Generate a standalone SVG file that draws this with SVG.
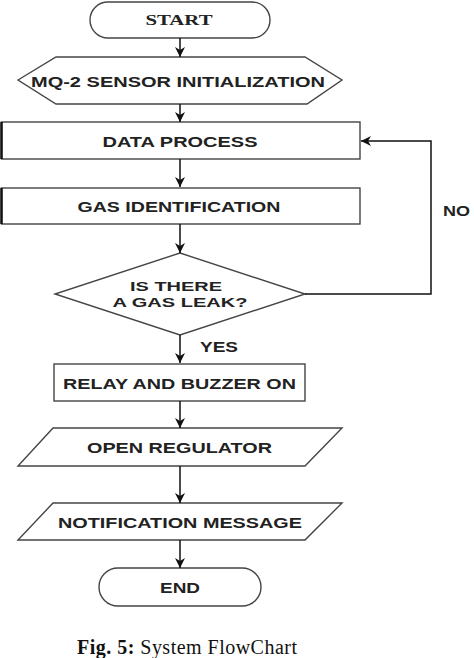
<svg xmlns="http://www.w3.org/2000/svg" width="474" height="658" viewBox="0 0 474 658">
<defs>
<marker id="ah" viewBox="0 0 10 10" refX="10" refY="5" markerWidth="10" markerHeight="10" markerUnits="userSpaceOnUse" orient="auto">
<path d="M0,0 L10,5 L0,10 L3,5 Z" fill="#111"/>
</marker>
</defs>
<style>
.sh{fill:#fff;stroke:#444;stroke-width:1.4}
.t{font-family:"Liberation Sans",Arial,sans-serif;font-weight:bold;font-size:15px;fill:#222;text-anchor:middle;dominant-baseline:central}
.d{font-size:13.5px}
.c{fill:none;stroke:#111;stroke-width:1.5}
</style>
<rect width="474" height="658" fill="#fff"/>
<g id="start">
<rect class="sh" x="90" y="2" width="180" height="36" rx="18" ry="18"/>
<text x="179" y="20" style="font-family:'Liberation Serif',serif;font-weight:bold;font-size:15px;fill:#222;text-anchor:middle;dominant-baseline:central" textLength="67" lengthAdjust="spacingAndGlyphs">START</text>
</g>
<g id="init">
<polygon class="sh" points="18,80 56,57 305,57 342,80 307,104 56,104"/>
<text class="t" x="178" y="81" textLength="294" lengthAdjust="spacingAndGlyphs">MQ-2 SENSOR INITIALIZATION</text>
</g>
<g id="data">
<rect class="sh" x="1.5" y="122" width="358.5" height="37"/>
<line x1="1.5" y1="122" x2="1.5" y2="159" stroke="#111" stroke-width="2.5"/>
<text class="t" x="180" y="141" textLength="155" lengthAdjust="spacingAndGlyphs">DATA PROCESS</text>
</g>
<g id="gas">
<rect class="sh" x="1.5" y="188" width="358.5" height="36"/>
<line x1="1.5" y1="188" x2="1.5" y2="224" stroke="#111" stroke-width="2.5"/>
<text class="t" x="179" y="206" textLength="203" lengthAdjust="spacingAndGlyphs">GAS IDENTIFICATION</text>
</g>
<g id="decision">
<polygon class="sh" points="180,253 305,294 180,335 55,294"/>
<text class="t d" x="176" y="286" textLength="92" lengthAdjust="spacingAndGlyphs">IS THERE</text>
<text class="t d" x="180" y="302.5" textLength="135" lengthAdjust="spacingAndGlyphs">A GAS LEAK?</text>
</g>
<g id="relay">
<rect class="sh" x="54" y="364" width="251" height="37"/>
<text class="t" x="179.5" y="383" textLength="233" lengthAdjust="spacingAndGlyphs">RELAY AND BUZZER ON</text>
</g>
<g id="regulator">
<polygon class="sh" points="53,428 342,428 305,466 18,466"/>
<text class="t" x="179.5" y="447" textLength="185" lengthAdjust="spacingAndGlyphs">OPEN REGULATOR</text>
</g>
<g id="notify">
<polygon class="sh" points="53,503 342,503 305,540 18,540"/>
<text class="t" x="180" y="522" textLength="244" lengthAdjust="spacingAndGlyphs">NOTIFICATION MESSAGE</text>
</g>
<g id="end">
<rect class="sh" x="99" y="568" width="162" height="38" rx="19" ry="19"/>
<text class="t" x="180" y="587" textLength="40" lengthAdjust="spacingAndGlyphs">END</text>
</g>
<g id="connectors">
<line class="c" x1="180" y1="38" x2="180" y2="57" marker-end="url(#ah)"/>
<line class="c" x1="180" y1="104" x2="180" y2="122" marker-end="url(#ah)"/>
<line class="c" x1="180" y1="159" x2="180" y2="187" marker-end="url(#ah)"/>
<line class="c" x1="180" y1="224" x2="180" y2="253" marker-end="url(#ah)"/>
<line class="c" x1="180" y1="335" x2="180" y2="363" marker-end="url(#ah)"/>
<line class="c" x1="180" y1="401" x2="180" y2="428" marker-end="url(#ah)"/>
<line class="c" x1="180" y1="466" x2="180" y2="503" marker-end="url(#ah)"/>
<line class="c" x1="180" y1="540" x2="180" y2="568" marker-end="url(#ah)"/>
<polyline class="c" points="305,294 431,294 431,141 361,141" marker-end="url(#ah)"/>
<text class="t" x="219" y="346" textLength="38" lengthAdjust="spacingAndGlyphs">YES</text>
<text class="t" x="443" y="210" style="text-anchor:start" textLength="27" lengthAdjust="spacingAndGlyphs">NO</text>
</g>
<text x="187" y="647" style="font-family:'Liberation Serif',serif;font-size:20px;fill:#111;text-anchor:middle;dominant-baseline:central" textLength="220"><tspan font-weight="bold">Fig. 5:</tspan> System FlowChart</text>
</svg>
